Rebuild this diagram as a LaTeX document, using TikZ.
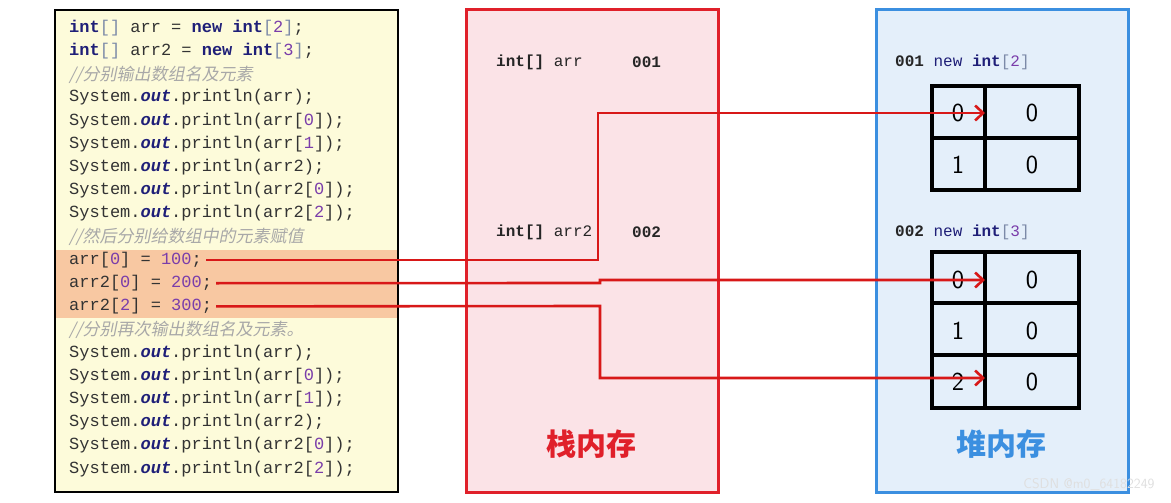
\documentclass[tikz,border=0pt]{standalone}
\usepackage{fontspec}
\setmainfont{Liberation Sans}
\setmonofont{Liberation Mono}
\newfontfamily\cjk{Noto Sans CJK SC}
\newfontfamily\cjkslant[FakeSlant=0.2]{Noto Sans CJK SC}
\usetikzlibrary{arrows.meta}
\definecolor{kw}{HTML}{1F1F78}
\definecolor{num}{HTML}{7A3DAA}
\definecolor{cm}{HTML}{A8A8A8}
\definecolor{br}{HTML}{7C8AA8}
\definecolor{codebg}{HTML}{FDFBDA}
\definecolor{hl}{HTML}{F8C8A2}
\definecolor{stackbg}{HTML}{FBE3E7}
\definecolor{stackred}{HTML}{E0202A}
\definecolor{heapbg}{HTML}{E4EFFA}
\definecolor{heapblue}{HTML}{3B8FE0}
\definecolor{arrred}{HTML}{D81818}
\newcommand{\K}[1]{\textbf{\color{kw}#1}}
\newcommand{\N}[1]{{\color{num}#1}}
\newcommand{\B}[1]{{\color{br}#1}}
\newcommand{\Out}{\textbf{\textit{\color{kw}out}}}
\tikzset{
  code/.style={anchor=west, inner sep=0pt, font=\fontsize{17}{17}\selectfont\ttfamily, text=black!80},
  comm/.style={anchor=west, inner sep=0pt, font=\fontsize{17}{17}\selectfont\cjkslant, text=cm},
  ref/.style={draw=arrred, line width=2.6pt, -{Straight Barb[length=8pt,width=15pt,line width=2.6pt]}},
  cell/.style={draw=black, line width=3.5pt},
  small/.style={anchor=west, inner sep=0pt, font=\fontsize{16}{16}\selectfont\ttfamily, text=black!85},
}
\begin{document}
\begin{tikzpicture}[x=1pt,y=-1pt]
\useasboundingbox (0,0) rectangle (1171,503);
\fill[white] (0,0) rectangle (1171,503);
% code panel
\draw[fill=codebg, line width=1.5pt] (55,10) rectangle (398,492);
\fill[hl] (56,250) rectangle (397,318);
\def\lx{69}
\node[code] (l1) at (\lx,28) {\K{int}\B{[]} arr = \K{new} \K{int}\B{[}\N{2}\B{]};};
\node[code] (l2) at (\lx,51.2) {\K{int}\B{[]} arr2 = \K{new} \K{int}\B{[}\N{3}\B{]};};
\node[comm] (l3) at (\lx,74.4) {//分别输出数组名及元素};
\node[code] (l4) at (\lx,97.6) {System.\Out.println(arr);};
\node[code] (l5) at (\lx,120.8) {System.\Out.println(arr[\N{0}]);};
\node[code] (l6) at (\lx,144) {System.\Out.println(arr[\N{1}]);};
\node[code] (l7) at (\lx,167.2) {System.\Out.println(arr2);};
\node[code] (l8) at (\lx,190.4) {System.\Out.println(arr2[\N{0}]);};
\node[code] (l9) at (\lx,213.6) {System.\Out.println(arr2[\N{2}]);};
\node[comm] (l10) at (\lx,236.8) {//然后分别给数组中的元素赋值};
\node[code] (a1) at (\lx,260) {arr[\N{0}] = \N{100};};
\node[code] (a2) at (\lx,283.2) {arr2[\N{0}] = \N{200};};
\node[code] (a3) at (\lx,306.4) {arr2[\N{2}] = \N{300};};
\node[comm] (l14) at (\lx,329.6) {//分别再次输出数组名及元素。};
\node[code] (l15) at (\lx,352.8) {System.\Out.println(arr);};
\node[code] (l16) at (\lx,376) {System.\Out.println(arr[\N{0}]);};
\node[code] (l17) at (\lx,399.2) {System.\Out.println(arr[\N{1}]);};
\node[code] (l18) at (\lx,422.4) {System.\Out.println(arr2);};
\node[code] (l19) at (\lx,445.6) {System.\Out.println(arr2[\N{0}]);};
\node[code] (l20) at (\lx,468.8) {System.\Out.println(arr2[\N{2}]);};
% stack
\draw[fill=stackbg, draw=stackred, line width=3pt] (466,10) rectangle (718,492);
\node[small] (s1) at (496,62) {\textbf{int[]} arr};
\node[small] (s1a) at (632,62) {\textbf{001}};
\node[small] (s2) at (496,232) {\textbf{int[]} arr2};
\node[small] (s2a) at (632,232) {\textbf{002}};
\node[font=\fontsize{30}{30}\selectfont\cjk\bfseries, text=stackred] (st) at (591,444) {栈内存};
% heap
\draw[fill=heapbg, draw=heapblue, line width=3pt] (876,10) rectangle (1128,492);
\node[small] (h1) at (895,62) {\textbf{001} {\color{kw}new \textbf{int}}{\color{br}[}{\color{num}2}{\color{br}]}};
\node[small] (h2) at (895,232) {\textbf{002} {\color{kw}new \textbf{int}}{\color{br}[}{\color{num}3}{\color{br}]}};
\node[font=\fontsize{30}{30}\selectfont\cjk\bfseries, text=heapblue] (hp) at (1001,444) {堆内存};
\tikzset{num/.style={font=\fontsize{26}{26}\selectfont\sffamily, text=black}}
% table 1
\draw[cell] (932,86) rectangle (1079,190);
\draw[cell] (932,138) -- (1079,138);
\draw[cell] (985,86) -- (985,190);
\node[num] (t10) at (958,113) {0}; \node[num] (v10) at (1032,113) {0};
\node[num] (t11) at (958,165) {1}; \node[num] (v11) at (1032,165) {0};
% table 2
\draw[cell] (932,252) rectangle (1079,408);
\draw[cell] (932,303) -- (1079,303);
\draw[cell] (932,355) -- (1079,355);
\draw[cell] (985,252) -- (985,408);
\node[num] (t20) at (958,280) {0}; \node[num] (v20) at (1032,280) {0};
\node[num] (t21) at (958,331) {1}; \node[num] (v21) at (1032,331) {0};
\node[num] (t22) at (958,382) {2}; \node[num] (v22) at (1032,382) {0};
\coordinate (e1) at (985,113);
\coordinate (e2) at (985,280);
\coordinate (e3) at (985,378);
% arrows
\draw[ref] ([xshift=4pt]a1.east) -- (598,260) -- (598,113) -- (e1);
\draw[ref] ([xshift=4pt]a2.east) -- (600,283) -- (600,280) -- (e2);
\draw[ref] ([xshift=4pt]a3.east) -- (600,306) -- (600,378) -- (e3);
\node[anchor=east, font=\fontsize{14}{14}\selectfont\sffamily, text=white!75!gray] (wm) at (1158,485) {CSDN @m0\_64182249};
\end{tikzpicture}
\end{document}
